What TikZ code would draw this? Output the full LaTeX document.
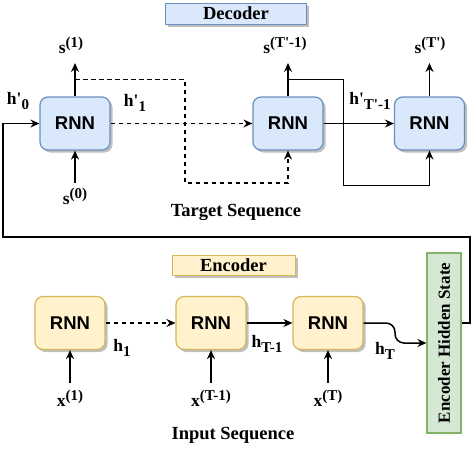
\documentclass[tikz,border=0pt]{standalone}
\usepackage{fontspec}
\setmainfont{Liberation Serif}
\newfontfamily\rnnfont{Liberation Sans}
\usetikzlibrary{arrows.meta,shadows,calc}
\definecolor{bfill}{HTML}{DAE8FC}
\definecolor{bdraw}{HTML}{6C8EBF}
\definecolor{yfill}{HTML}{FFF2CC}
\definecolor{ydraw}{HTML}{D6B656}
\definecolor{gfill}{HTML}{D5E8D4}
\definecolor{gdraw}{HTML}{82B366}
\definecolor{thin}{HTML}{333333}
\newcommand\upix[1]{\raisebox{6pt}{\fontsize{15}{15}\selectfont #1}}
\newcommand\dnix[1]{\raisebox{-5pt}{\fontsize{15}{15}\selectfont #1}}
\newcommand\qq{\textquotesingle}
\begin{document}
\begin{tikzpicture}[x=1pt,y=-1pt,
  shd/.style={drop shadow={shadow xshift=2.5pt,shadow yshift=-2.5pt,fill=black,opacity=0.25}},
  rnnbase/.style={rounded corners=8pt, line width=1.2pt, minimum width=70pt, minimum height=53pt,
    font=\rnnfont\bfseries\fontsize{18.5}{18.5}\selectfont, shd},
  rnnd/.style={rnnbase, draw=bdraw, fill=bfill},
  rnne/.style={rnnbase, draw=ydraw, fill=yfill},
  lblbox/.style={line width=1pt, font=\bfseries\fontsize{18.5}{18.5}\selectfont, shd, inner sep=0pt},
  lbl/.style={font=\bfseries\fontsize{17.5}{17.5}\selectfont, inner sep=0pt},
  ttl/.style={font=\bfseries\fontsize{18.5}{18.5}\selectfont, inner sep=0pt},
  arrt/.style={-{Stealth[length=9pt,width=8pt,inset=3pt]}},
  arr/.style={arrt, line width=1.5pt},
  dsh/.style={line width=1.5pt, dash pattern=on 4.5pt off 3.5pt}
]
\useasboundingbox (0,0) rectangle (474,463);

% labels boxes
\node[lblbox, draw=bdraw, fill=bfill, minimum width=141pt, minimum height=21pt] (dec) at (236,13.5) {Decoder};
\node[lblbox, draw=ydraw, fill=yfill, minimum width=123pt, minimum height=20pt] (enc) at (233.5,265) {Encoder};

% decoder RNNs
\node[rnnd] (d1) at (75,123.5) {RNN};
\node[rnnd] (d2) at (288,123.5) {RNN};
\node[rnnd] (d3) at (429.5,123.5) {RNN};

% encoder RNNs
\node[rnne] (e1) at (70,323) {RNN};
\node[rnne] (e2) at (211,323) {RNN};
\node[rnne] (e3) at (328,323) {RNN};

% encoder hidden state
\node[draw=gdraw, fill=gfill, line width=1.2pt, minimum width=34pt, minimum height=180pt, inner sep=0pt] (ehs) at (444,343) {};
\node[rotate=90, font=\bfseries\fontsize{17}{17}\selectfont, inner sep=0pt] (ehst) at (ehs.center) {Encoder Hidden State};

% output arrows and labels
\coordinate (s1a) at (75,63);
\coordinate (s2a) at (288,63);
\coordinate (s3a) at (429.5,63);
\draw[arr] (d1.north) -- (s1a);
\draw[arr] (d2.north) -- (s2a);
\draw[arr] (d3.north) -- (s3a);
\node[lbl] (s1) at (71,45) {s\upix{(1)}};
\node[lbl] (s2) at (285,45) {s\upix{(T\qq-1)}};
\node[lbl] (s3) at (430,45) {s\upix{(T\qq)}};

% s(0) input
\coordinate (s0a) at (75,183);
\draw[arr] (s0a) -- (d1.south);
\node[lbl] (s0) at (75,196) {s\upix{(0)}};

% dashed feedback from s(1) to d2
\coordinate (k1) at (185,183);
\draw[dsh, arrt] ($(d1.north)!0.5!(s1a)$) -| (k1) -| (d2.south);
% thin feedback from s(T'-1) to d3
\coordinate (k2) at (343,185);
\draw[thin, line width=1pt, arrt] ($(d2.north)!0.5!(s2a)$) -| (k2) -| (d3.south);

% hidden state links decoder
\draw[dsh, arrt] (d1) -- (d2);
\draw[arr] (d2) -- (d3);
\node[lbl] (hp0) at (18,101) {h\qq\dnix{0}};
\node[lbl] (hp1) at (135,103) {h\qq\dnix{1}};
\node[lbl] (hpT) at (370,101) {h\qq\dnix{T\qq-1}};

% encoder links
\draw[dsh, arrt] (e1) -- (e2);
\draw[arr] (e2) -- (e3);
\coordinate (c1) at (395,323);
\coordinate (c2) at (395,343);
\draw[arr, rounded corners=9pt] (e3.east) -- (c1) -- (c2) -- (ehs.west);
\node[lbl] (h1) at (122,348) {h\dnix{1}};
\node[lbl] (hT1) at (267,344) {h\dnix{T-1}};
\node[lbl] (hT) at (385,351) {h\dnix{T}};

% encoder inputs
\coordinate (x1a) at (70,383);
\coordinate (x2a) at (211,383);
\coordinate (x3a) at (328,383);
\draw[arr] (x1a) -- (e1.south);
\draw[arr] (x2a) -- (e2.south);
\draw[arr] (x3a) -- (e3.south);
\node[lbl] (x1) at (70,398) {x\upix{(1)}};
\node[lbl] (x2) at (211,398) {x\upix{(T-1)}};
\node[lbl] (x3) at (328,398) {x\upix{(T)}};

% long feedback from encoder hidden state to decoder
\coordinate (f1) at (470,237);
\coordinate (f2) at (3,237);
\draw[line width=1.5pt, arrt] (ehs.east |- e3.center) -| (f1) -- (f2) |- (d1.west);

% titles
\node[ttl] (tseq) at (236,212) {Target Sequence};
\node[ttl] (iseq) at (233,435) {Input Sequence};
\end{tikzpicture}
\end{document}
